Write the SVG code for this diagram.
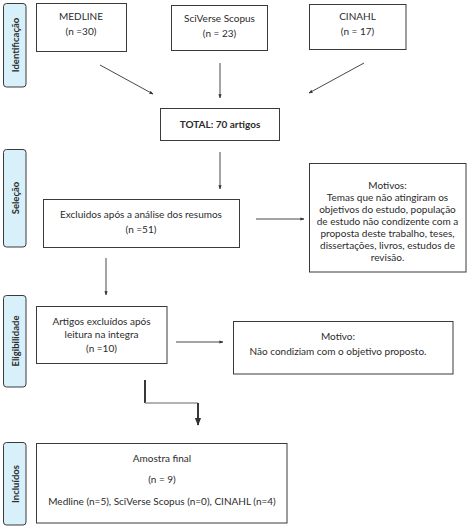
<svg xmlns="http://www.w3.org/2000/svg" width="474" height="529" viewBox="0 0 474 529">
<style>
text{font-family:Lato,"Open Sans","Liberation Sans",sans-serif;fill:#2b2b2b;font-size:10px}
.box{fill:#fff;stroke:#3a3a3a;stroke-width:1}
.side{fill:#d8f0fa;stroke:#3a3a3a;stroke-width:1}
.st{font-weight:bold;font-size:9.5px}
.c{text-anchor:middle}
.ln{stroke:#333;stroke-width:0.9;fill:none}
</style>
<defs>
<marker id="ah" viewBox="0 0 10 10" refX="9" refY="5" markerWidth="4.5" markerHeight="4.5" orient="auto"><path d="M0,1 L10,5 L0,9 z" fill="#333"/></marker>
</defs>
<rect width="474" height="529" fill="#fff"/>
<g id="side-identificacao"><rect class="side" x="3.5" y="3.5" width="22.5" height="83.5" rx="3"/><text class="st c" transform="translate(18.5,45) rotate(-90)">Identificação</text></g>
<g id="side-selecao"><rect class="side" x="3.5" y="149.5" width="22.5" height="97.5" rx="3"/><text class="st c" transform="translate(18.5,198) rotate(-90)">Seleção</text></g>
<g id="side-elegibilidade"><rect class="side" x="3.5" y="295.5" width="22.5" height="91.5" rx="3"/><text class="st c" transform="translate(18.5,341) rotate(-90)">Eligibilidade</text></g>
<g id="side-incluidos"><rect class="side" x="3.5" y="442.5" width="22.5" height="82.5" rx="3"/><text class="st c" transform="translate(18.5,484) rotate(-90)">Incluídos</text></g>
<g id="medline"><rect class="box" x="36.5" y="3.5" width="90" height="48"/><text class="c" x="81" y="20">MEDLINE</text><text class="c" x="81" y="35">(n =30)</text></g>
<g id="scopus"><rect class="box" x="171.5" y="5.5" width="96" height="45"/><text class="c" x="219.5" y="22">SciVerse Scopus</text><text class="c" x="219.5" y="37">(n = 23)</text></g>
<g id="cinahl"><rect class="box" x="309.5" y="4.5" width="96.5" height="45"/><text class="c" x="357.5" y="20">CINAHL</text><text class="c" x="357.5" y="35">(n = 17)</text></g>
<g id="total"><rect class="box" x="160.5" y="108.5" width="119" height="32"/><text class="c" x="220" y="128" font-weight="bold">TOTAL: 70 artigos</text></g>
<g id="excluidos-resumos"><rect class="box" x="43.5" y="199.5" width="196" height="48"/><text class="c" x="141" y="218" font-size="10.5">Excluidos após a análise dos resumos</text><text class="c" x="141" y="233" font-size="10.5">(n =51)</text></g>
<g id="motivos"><rect class="box" x="309.5" y="163.5" width="156.5" height="108.5"/>
<text class="c" x="387.5" y="189" font-size="9.6">Motivos:</text>
<text class="c" x="387.5" y="201" font-size="9.6">Temas que não atingiram os</text>
<text class="c" x="387.5" y="213" font-size="9.6">objetivos do estudo, população</text>
<text class="c" x="387.5" y="225" font-size="9.6">de estudo não condizente com a</text>
<text class="c" x="387.5" y="237" font-size="9.6">proposta deste trabalho, teses,</text>
<text class="c" x="387.5" y="249" font-size="9.6">dissertações, livros, estudos de</text>
<text class="c" x="387.5" y="261" font-size="9.6">revisão.</text></g>
<g id="artigos-excluidos"><rect class="box" x="36.5" y="306.5" width="130.5" height="57"/><text class="c" x="101.5" y="325" font-size="9.2">Artigos excluídos após</text><text class="c" x="101.5" y="338" font-size="9.2">leitura na integra</text><text class="c" x="101.5" y="352" font-size="9.2">(n =10)</text></g>
<g id="motivo"><rect class="box" x="233.5" y="321.5" width="219.5" height="52.5"/><text class="c" x="338" y="340" font-size="9.2">Motivo:</text><text class="c" x="338" y="355" font-size="9.2">Não condiziam com o objetivo proposto.</text></g>
<g id="amostra"><rect class="box" x="36.5" y="443.5" width="250.5" height="79.5"/><text class="c" x="162" y="462" font-size="9.2">Amostra final</text><text class="c" x="162" y="483" font-size="9.2">(n = 9)</text><text class="c" x="162" y="505" font-size="9.2">Medline (n=5), SciVerse Scopus (n=0), CINAHL (n=4)</text></g>
<g id="connectors">
<line class="ln" x1="100" y1="65" x2="153" y2="94" marker-end="url(#ah)"/>
<line class="ln" x1="220" y1="63" x2="220" y2="98" marker-end="url(#ah)"/>
<line class="ln" x1="364" y1="63" x2="309" y2="93" marker-end="url(#ah)"/>
<line class="ln" x1="220" y1="152" x2="220" y2="189" marker-end="url(#ah)"/>
<line class="ln" x1="256" y1="219" x2="304" y2="219" marker-end="url(#ah)"/>
<line class="ln" x1="106" y1="258" x2="106" y2="295" marker-end="url(#ah)"/>
<line class="ln" x1="176" y1="342" x2="223" y2="342" marker-end="url(#ah)"/>
<path d="M145,380 V403" stroke="#222" stroke-width="1.8" fill="none"/>
<path d="M145,403 H198" stroke="#999" stroke-width="1.3" fill="none"/>
<path d="M198,403 V425" stroke="#222" stroke-width="1.8" fill="none" marker-end="url(#ah)"/>
</g>
</svg>
